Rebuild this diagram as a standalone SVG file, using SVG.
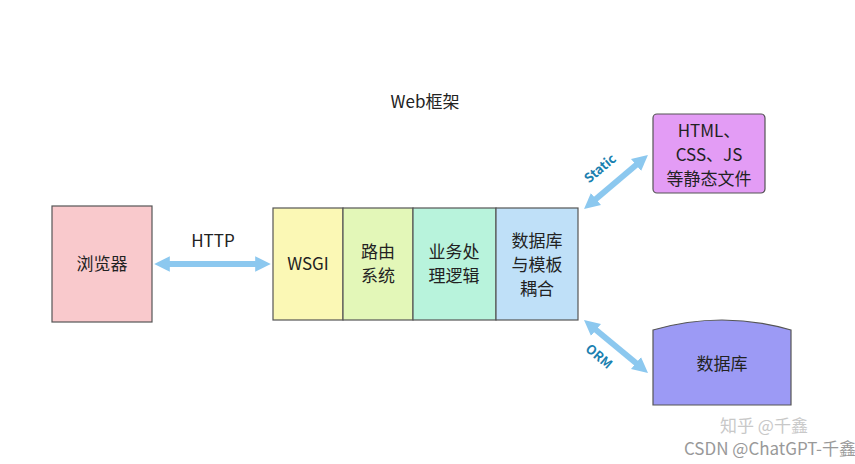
<svg xmlns="http://www.w3.org/2000/svg" width="855" height="464" viewBox="0 0 855 464">
<style>
text{font-family:"Noto Sans CJK SC","Noto Sans",sans-serif;fill:#222;font-size:17px;text-anchor:middle}
.b{stroke:#555;stroke-width:1.2}
.lbl{font-weight:bold;fill:#1a7fb0;font-size:13px}
.ar{stroke:#8cc8ef;stroke-width:6;fill:none}
</style>
<defs>
<marker id="h" viewBox="0 0 10 10" refX="5" refY="5" markerWidth="2.6" markerHeight="3" orient="auto-start-reverse"><path d="M0,0L10,5L0,10z" fill="#8cc8ef"/></marker>
</defs>
<rect width="855" height="464" fill="#fff"/>
<text x="425" y="108" font-size="18">Web框架</text>
<g id="browser"><rect class="b" x="52" y="206" width="100" height="116" fill="#f9c9cc"/><text x="102" y="270">浏览器</text></g>
<g id="wsgi"><rect class="b" x="273" y="208" width="70" height="112" fill="#fbf8b5"/><text x="308" y="270">WSGI</text></g>
<g id="route"><rect class="b" x="343" y="208" width="70" height="112" fill="#e3f7b8"/><text x="378" y="258">路由</text><text x="378" y="282">系统</text></g>
<g id="logic"><rect class="b" x="413" y="208" width="83" height="112" fill="#b8f3dc"/><text x="454" y="258">业务处</text><text x="454" y="282">理逻辑</text></g>
<g id="dbtpl"><rect class="b" x="496" y="208" width="82" height="112" fill="#bfe0f8"/><text x="537" y="247">数据库</text><text x="537" y="271">与模板</text><text x="537" y="295">耦合</text></g>
<g id="static"><rect class="b" x="653" y="114" width="112" height="79" rx="4" fill="#e39cf5"/><text x="709" y="137">HTML、</text><text x="709" y="161">CSS、JS</text><text x="709" y="185">等静态文件</text></g>
<g id="db"><path class="b" d="M653,330Q722,310 791,330V405H653Z" fill="#9c9af5"/><text x="722" y="370">数据库</text></g>
<g id="connectors">
<line class="ar" x1="162" y1="264" x2="263" y2="264" marker-start="url(#h)" marker-end="url(#h)"/>
<line class="ar" x1="590" y1="204" x2="642" y2="160" marker-start="url(#h)" marker-end="url(#h)"/>
<line class="ar" x1="590" y1="325" x2="642" y2="368" marker-start="url(#h)" marker-end="url(#h)"/>
<text x="213" y="247" font-size="13">HTTP</text>
<text class="lbl" transform="translate(603,172) rotate(-40)">Static</text>
<text class="lbl" transform="translate(596,360) rotate(40)">ORM</text>
</g>
<text x="764" y="432" font-size="18" style="fill:#c8c8c8">知乎 @千鑫</text>
<text x="770" y="455" font-size="12" style="fill:#999">CSDN @ChatGPT-千鑫</text>
</svg>
